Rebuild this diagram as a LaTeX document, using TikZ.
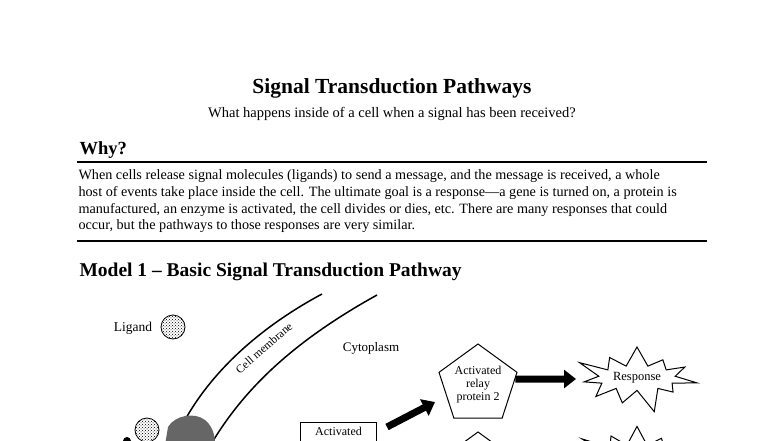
\documentclass[tikz,border=0pt]{standalone}
\usepackage{fontspec}
\setmainfont{Liberation Serif}
\usetikzlibrary{shapes.geometric,shapes.symbols,arrows.meta,patterns}
\begin{document}
\begin{tikzpicture}[x=1pt,y=-1pt,
  body/.style={anchor=base west,font=\fontsize{14.2}{16}\selectfont},
  ligandball/.style={circle,draw,line width=0.8pt,minimum size=24pt,pattern=crosshatch dots},
  bigarrow/.style={line width=7pt,-{Triangle[length=12pt,width=18pt]}},
  pent/.style={regular polygon,regular polygon sides=5,draw,line width=1pt,minimum size=82pt,align=center,inner sep=0pt,font=\fontsize{12}{13}\selectfont},
  star/.style={starburst,starburst points=11,starburst point height=26pt,draw,line width=1pt,fill=white,minimum width=124pt,minimum height=66pt,font=\fontsize{12.5}{14}\selectfont}]
\useasboundingbox (0,0) rectangle (784,441);
\clip (0,0) rectangle (784,441);
\node (title) at (392,88) {\fontsize{21.5}{24}\selectfont\bfseries Signal Transduction Pathways};
\node (sub) at (392,114) {\fontsize{14.5}{16}\selectfont What happens inside of a cell when a signal has been received?};
\node[anchor=base west,font=\fontsize{18.5}{20}\selectfont\bfseries] (why) at (76,154) {Why?};
\draw[line width=1.2pt] (77,162) -- (707,162);
\node[body] (l1) at (75,179) {When cells release signal molecules (ligands) to send a message, and the message is received, a whole};
\node[body] (l2) at (75,196) {host of events take place inside the cell. The ultimate goal is a response—a gene is turned on, a protein is};
\node[body] (l3) at (75,213) {manufactured, an enzyme is activated, the cell divides or dies, etc. There are many responses that could};
\node[body] (l4) at (75,229) {occur, but the pathways to those responses are very similar.};
\draw[line width=1.2pt] (77,241) -- (707,241);
\node[anchor=base west,font=\fontsize{19.5}{21}\selectfont\bfseries] (model) at (76,276) {Model 1 – Basic Signal Transduction Pathway};
% membrane
\draw[line width=1.5pt] (322,294) .. controls (255,330) and (210,375) .. (185,420);
\draw[line width=1.5pt] (377,295) .. controls (305,335) and (250,380) .. (213,441);
\node[rotate=41,font=\fontsize{11.5}{13}\selectfont] (mem) at (264,348) {Cell membrane};
\node[font=\fontsize{13}{15}\selectfont] (cyto) at (371,348) {Cytoplasm};
\node[font=\fontsize{13.5}{15}\selectfont] (lig) at (133,328) {Ligand};
\node[ligandball] (ball1) at (173,327) {};
% receptor
\fill[gray!80!black] (168,427) .. controls (175,415) and (195,412) .. (205,420) .. controls (215,428) and (215,441) .. (215,445) -- (165,445) -- cycle;
\node[ligandball] (ball2) at (147,430) {};
\fill (127,441) circle (4pt);
\node[draw,line width=1pt,minimum width=76pt,minimum height=30pt,anchor=north west,font=\fontsize{12}{14}\selectfont,text depth=12pt] (box) at (300,422) {Activated};
\node[pent] (p2) at (478,385) {Activated\\relay\\protein 2};
\node[pent] (p3) at (478,473) {};
\node[star] (r1) at (637,378) {Response};
\node[star] (r2) at (637,452) {};
\draw[bigarrow] (box.north east) ++(10,5) coordinate (a1) -- (435,402) coordinate (a2);
\draw[bigarrow] (p2.east) ++(2,-6) coordinate (a3) -- (576,379) coordinate (a4);
\end{tikzpicture}
\end{document}
